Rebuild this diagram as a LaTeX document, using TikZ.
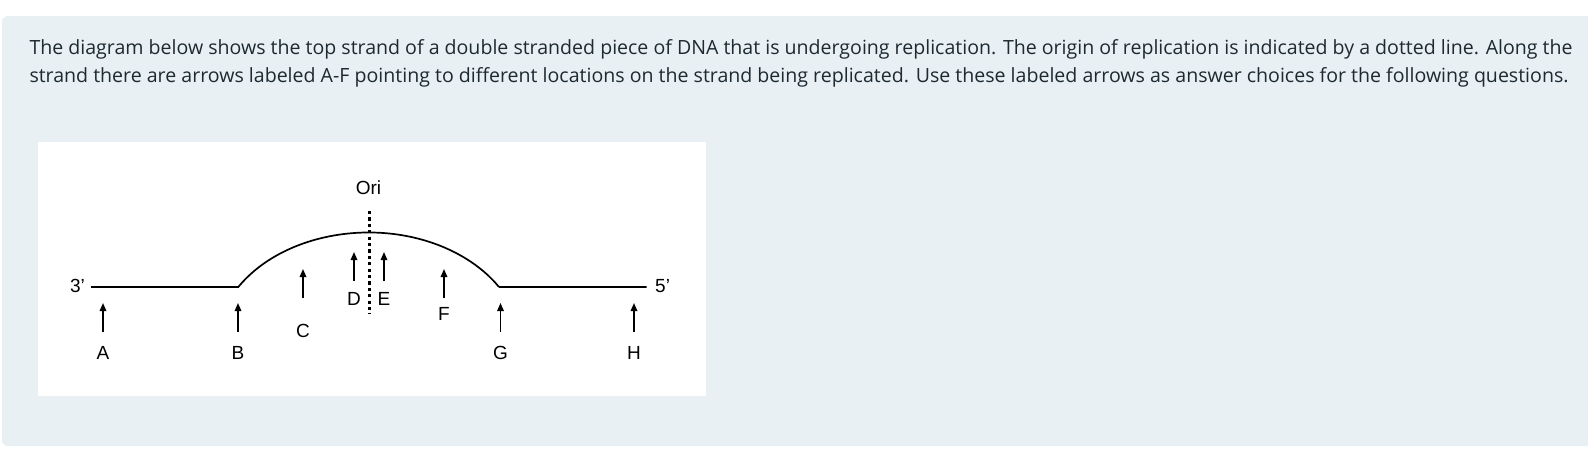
\documentclass[tikz,border=0pt]{standalone}
\usepackage{graphicx}
\usepackage{fontspec}
\setmainfont{Liberation Sans}
\newfontfamily\promptfont{Open Sans}
\usetikzlibrary{arrows.meta}
\definecolor{panel}{HTML}{E8F0F3}
\definecolor{ink}{HTML}{1D2A31}
\tikzstyle{strand}=[line width=1.7pt]
\tikzstyle{pointer}=[-{Triangle[length=8pt,width=6.5pt]},line width=1.6pt]
\tikzstyle{lab}=[inner sep=0pt,anchor=base,font=\fontsize{19}{23}\selectfont]
\tikzstyle{origin}=[line width=2.6pt,dash pattern=on 3.2pt off 3.2pt]
\tikzstyle{prompt}=[inner sep=0pt,anchor=base west,text=ink,font=\promptfont\fontsize{19}{23}\selectfont]

\begin{document}
\begin{tikzpicture}[x=1pt,y=1pt]
            \useasboundingbox (0,0) rectangle (1588,-464);
            \fill[panel,rounded corners=6pt] (2,-16) rectangle (1600,-446);
            \fill[white] (37.7,-141.7) rectangle (706,-395.7);

            \node[prompt] (line1) at (29.3,-54.3) {\resizebox{1543pt}{!}{The diagram below shows the top strand of a double stranded piece of DNA that is undergoing replication. The origin of replication is indicated by a dotted line. Along the}};
            \node[prompt] (line2) at (29.3,-82.3) {\resizebox{1539pt}{!}{strand there are arrows labeled A-F pointing to different locations on the strand being replicated. Use these labeled arrows as answer choices for the following questions.}};

            % strand with the replication bubble
            \coordinate (L0) at (91,-287);
            \coordinate (L1) at (238.3,-287);
            \coordinate (R0) at (499,-287);
            \coordinate (R1) at (646.7,-287);
            \draw[strand] (L0) -- (L1) arc[start angle=148.4,end angle=31.6,x radius=153.05pt,y radius=114.5pt] -- (R0) -- (R1);
            \node[lab,anchor=base east] (three) at (85,-292.7) {3’};
            \node[lab,anchor=base west] (five) at (655,-292.7) {5’};

            % origin
            \node[lab] (ori) at (368.5,-194) {Ori};
            \coordinate (O0) at (369.3,-211);
            \coordinate (O1) at (369.3,-314);
            \draw[origin] (O0) -- (O1);

            % labeled arrows
            \foreach \n/\x/\t/\h/\b in {A/103/332/303/359.3, B/238/332/303/359.3, C/303/298/269/337.3,
                D/354/281/252/305, E/384/281/252/305, F/444/298/269/320.7,
                G/500.5/332/303/359.3, H/634/332/303/359.3} {
                \coordinate (\n-tail) at (\x,-\t);
                \coordinate (\n-tip) at (\x,-\h);
                \node[lab] (\n) at (\x,-\b) {\n};
                \draw[pointer] (\n-tail) -- (\n-tip);
            }
        \end{tikzpicture}
\end{document}
